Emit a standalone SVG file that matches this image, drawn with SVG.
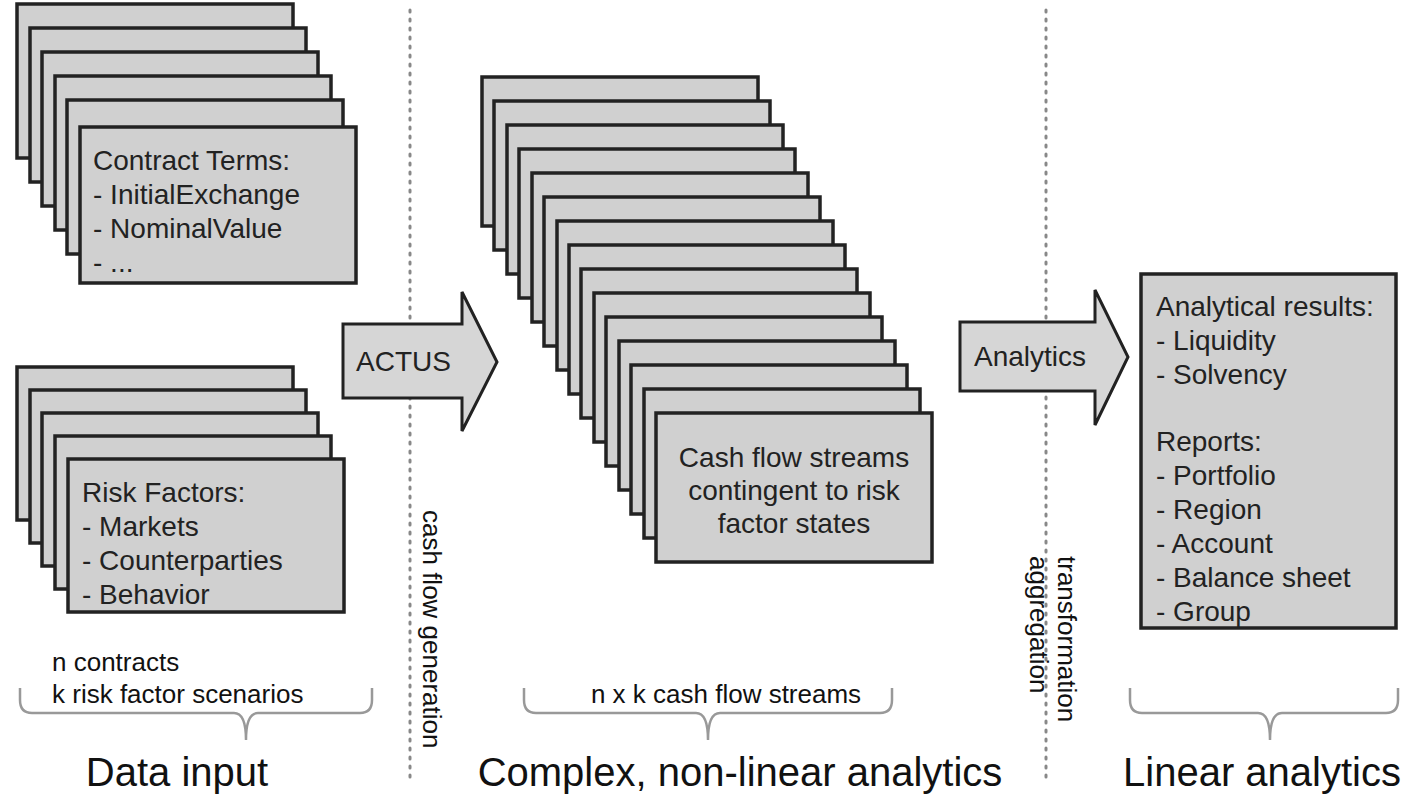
<svg xmlns="http://www.w3.org/2000/svg" width="1418" height="798" viewBox="0 0 1418 798">
<style>
.b{fill:#d0d0d0;stroke:#222;stroke-width:3.5}
.t{font-family:"Liberation Sans",Arial,sans-serif;font-size:28px;fill:#222}
.s{font-family:"Liberation Sans",Arial,sans-serif;font-size:26px;fill:#111}
.L{font-family:"Liberation Sans",Arial,sans-serif;font-size:40px;fill:#111}
.d{stroke:#888;stroke-width:3;stroke-dasharray:2 7;stroke-linecap:round}
.br{fill:none;stroke:#999;stroke-width:2.5}
.a{fill:#d6d6d6;stroke:#222;stroke-width:3}
</style>
<g id="dividers">
<line class="d" x1="410" y1="10" x2="410" y2="780"/>
<line class="d" x1="1046" y1="10" x2="1046" y2="780"/>
</g>
<g id="contracts">
<rect class="b" x="17" y="4" width="276" height="154"/>
<rect class="b" x="30" y="28" width="276" height="154"/>
<rect class="b" x="42" y="52" width="276" height="154"/>
<rect class="b" x="55" y="76" width="276" height="154"/>
<rect class="b" x="67" y="100" width="276" height="154"/>
<rect class="b" x="80" y="127" width="276" height="156"/>
<text class="t" x="93" y="170">Contract Terms:</text>
<text class="t" x="93" y="204">- InitialExchange</text>
<text class="t" x="93" y="238">- NominalValue</text>
<text class="t" x="93" y="272">- ...</text>
</g>
<g id="riskfactors">
<rect class="b" x="17" y="367" width="276" height="153"/>
<rect class="b" x="30" y="390" width="276" height="153"/>
<rect class="b" x="42" y="413" width="276" height="153"/>
<rect class="b" x="55" y="436" width="276" height="153"/>
<rect class="b" x="68" y="459" width="276" height="153"/>
<text class="t" x="82" y="502">Risk Factors:</text>
<text class="t" x="82" y="536">- Markets</text>
<text class="t" x="82" y="570">- Counterparties</text>
<text class="t" x="82" y="604">- Behavior</text>
</g>
<g id="inputlabel">
<text class="s" x="52" y="671">n contracts</text>
<text class="s" x="52" y="703">k risk factor scenarios</text>
</g>
<g id="actus">
<path class="a" d="M343,324 H462 V292 L497,362 L462,431 V398 H343 Z"/>
<text class="t" x="356" y="371">ACTUS</text>
</g>
<g id="cashflows">
<rect class="b" x="482" y="77" width="276" height="149"/>
<rect class="b" x="494" y="101" width="276" height="149"/>
<rect class="b" x="507" y="125" width="276" height="149"/>
<rect class="b" x="519" y="149" width="276" height="149"/>
<rect class="b" x="532" y="173" width="276" height="149"/>
<rect class="b" x="544" y="197" width="276" height="149"/>
<rect class="b" x="557" y="221" width="276" height="149"/>
<rect class="b" x="569" y="245" width="276" height="149"/>
<rect class="b" x="581" y="269" width="276" height="149"/>
<rect class="b" x="594" y="293" width="276" height="149"/>
<rect class="b" x="606" y="317" width="276" height="149"/>
<rect class="b" x="619" y="341" width="276" height="149"/>
<rect class="b" x="631" y="365" width="276" height="149"/>
<rect class="b" x="644" y="389" width="276" height="149"/>
<rect class="b" x="656" y="413" width="276" height="149"/>
<text class="t" text-anchor="middle" x="794" y="467">Cash flow streams</text>
<text class="t" text-anchor="middle" x="794" y="500">contingent to risk</text>
<text class="t" text-anchor="middle" x="794" y="533">factor states</text>
</g>
<g id="cflabel"><text class="s" text-anchor="middle" x="726" y="703">n x k cash flow streams</text></g>
<g id="analytics">
<path class="a" d="M960,322 H1095 V290 L1128,357 L1095,425 V391 H960 Z"/>
<text class="t" x="974" y="366">Analytics</text>
</g>
<g id="results">
<rect class="b" x="1141" y="274" width="255" height="354"/>
<text class="t" x="1156" y="316">Analytical results:</text>
<text class="t" x="1156" y="350">- Liquidity</text>
<text class="t" x="1156" y="384">- Solvency</text>
<text class="t" x="1156" y="451">Reports:</text>
<text class="t" x="1156" y="485">- Portfolio</text>
<text class="t" x="1156" y="519">- Region</text>
<text class="t" x="1156" y="553">- Account</text>
<text class="t" x="1156" y="587">- Balance sheet</text>
<text class="t" x="1156" y="621">- Group</text>
</g>
<g id="vertlabels">
<text class="s" transform="translate(423,510) rotate(90)">cash flow generation</text>
<text class="s" transform="translate(1058,556) rotate(90)">transformation</text>
<text class="s" transform="translate(1030,556) rotate(90)">aggregation</text>
</g>
<g id="braces">
<path class="br" d="M20,688 V700 Q20,713 32,713 H234 Q246,713 246,740 Q246,713 258,713 H360 Q372,713 372,700 V688"/>
<path class="br" d="M524,688 V700 Q524,713 536,713 H696 Q708,713 708,740 Q708,713 720,713 H880 Q892,713 892,700 V688"/>
<path class="br" d="M1130,688 V700 Q1130,713 1142,713 H1258 Q1270,713 1270,740 Q1270,713 1282,713 H1386 Q1398,713 1398,700 V688"/>
</g>
<g id="sections">
<text class="L" text-anchor="middle" x="177" y="786">Data input</text>
<text class="L" text-anchor="middle" x="740" y="786">Complex, non-linear analytics</text>
<text class="L" text-anchor="middle" x="1262" y="786">Linear analytics</text>
</g>
</svg>
